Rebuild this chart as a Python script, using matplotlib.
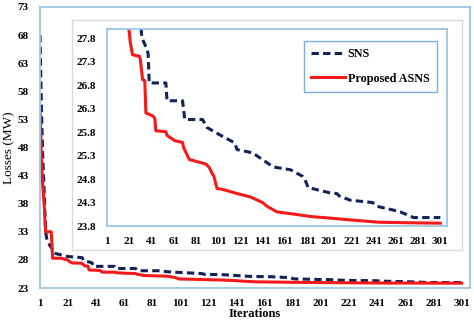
import numpy as np
import matplotlib.pyplot as plt
from matplotlib.lines import Line2D

plt.rcParams['font.family'] = ['Liberation Serif', 'DejaVu Serif']
plt.rcParams['font.weight'] = 'bold'

# convergence curves (iteration, losses in MW) at the break points of each curve
sns_iter = [1, 2, 3, 4, 5, 6, 7, 10, 11, 21, 31, 32, 33, 36, 38, 39, 54, 55, 69, 71,
            87, 91, 102, 116, 118, 132, 150, 153, 166, 177, 179, 182, 201, 208, 210,
            220, 240, 244, 262, 265, 274, 277, 301]
sns_loss = [68, 55, 46, 40, 33, 31.5, 31, 29.8, 29.2, 28.6, 28.4, 27.9, 27.78, 27.62,
            27.48, 26.85, 26.85, 26.47, 26.47, 26.07, 26.07, 25.9, 25.75, 25.57, 25.43,
            25.36, 25.07, 25.05, 25.0, 24.86, 24.8, 24.62, 24.51, 24.49, 24.44, 24.35,
            24.3, 24.22, 24.12, 24.1, 24.01, 23.98, 23.98]

asns_iter = [1, 2, 3, 4, 5, 9, 10, 16, 19, 21, 22, 24, 30, 31, 33, 35, 36, 42, 44, 45,
             54, 55, 62, 69, 70, 75, 90, 93, 96, 97, 100, 105, 120, 130, 141, 145, 154,
             170, 185, 201, 220, 246, 270, 301]
asns_loss = [55, 46, 41, 37.5, 33, 33, 28.3, 28.3, 28.1, 27.95, 27.7, 27.45, 27.42, 27.35,
             26.92, 26.9, 26.21, 26.15, 26.1, 25.83, 25.81, 25.73, 25.62, 25.58, 25.47,
             25.22, 25.12, 25.05, 24.9, 24.88, 24.6, 24.58, 24.48, 24.42, 24.3, 24.22,
             24.1, 24.05, 24.0, 23.97, 23.93, 23.88, 23.87, 23.86]

x_ticks = list(range(1, 302, 20))
y_ticks_main = list(range(23, 74, 5))
y_ticks_zoom = [23.8, 24.3, 24.8, 25.3, 25.8, 26.3, 26.8, 27.3, 27.8]

navy = '#13235a'
red = '#f41a1a'
frame_blue = '#9cc6e4'
fs = 8

fig = plt.figure(figsize=(4.74, 3.22), dpi=100)

# main axes
ax = fig.add_axes([40/474, 1-288/322, 430/474, 281/322])
ax.plot(sns_iter, sns_loss, color=navy, lw=2.2, ls=(0, (2.4, 1.4)))
ax.plot(asns_iter, asns_loss, color=red, lw=2.2)
ax.set_xlim(1, 307)
ax.set_ylim(23, 73)
ax.set_xticks(x_ticks)
ax.set_yticks(y_ticks_main)
ax.tick_params(length=0, labelsize=fs, pad=8)
for s in ax.spines.values():
    s.set_color(frame_blue)
    s.set_linewidth(1.3)
ax.set_xlabel('Iterations', fontsize=9, fontweight='bold', labelpad=0)
ax.set_ylabel('Losses (MW)', fontsize=9.5, fontweight='normal', labelpad=2)

# gray panel behind the zoomed view
bg = fig.add_axes([72/474, 1-250/322, 390/474, 230/322])
bg.set_xticks([])
bg.set_yticks([])
for s in bg.spines.values():
    s.set_color('#d9d9d9')
    s.set_linewidth(1.0)

# zoomed view
axz = fig.add_axes([107/474, 1-226/322, 340/474, 197/322])
axz.plot(sns_iter, sns_loss, color=navy, lw=2.2, ls=(0, (2.4, 1.4)))
axz.plot(asns_iter, asns_loss, color=red, lw=2.2)
axz.set_xlim(1, 307)
axz.set_ylim(23.8, 28.0)
axz.set_xticks(x_ticks)
axz.set_yticks(y_ticks_zoom)
axz.set_yticklabels([f'{v:.1f}' for v in y_ticks_zoom])
axz.tick_params(length=0, labelsize=fs, pad=8)
for s in axz.spines.values():
    s.set_color(frame_blue)
    s.set_linewidth(1.3)

handles = [Line2D([], [], color=navy, lw=2.2, ls=(0, (2.4, 1.4))),
           Line2D([], [], color=red, lw=2.2)]
leg = axz.legend(handles, ['SNS', 'Proposed ASNS'], loc='upper left',
                 bbox_to_anchor=(304/474, 1-40.7/322), bbox_transform=fig.transFigure,
                 borderaxespad=0, fancybox=False, frameon=True, fontsize=8.7,
                 handlelength=2.8, handletextpad=0.2, labelspacing=1.05,
                 borderpad=0.6)
leg.get_frame().set_edgecolor('#5b9bd5')
leg.get_frame().set_linewidth(1.0)

fig.savefig('out.png', dpi=100)
